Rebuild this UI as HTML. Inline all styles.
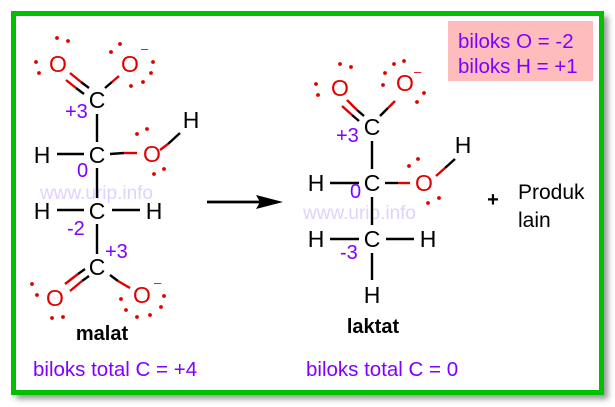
<!DOCTYPE html>
<html><head><meta charset="utf-8"><style>
html,body{margin:0;padding:0;background:#fff;}
svg{display:block;font-family:"Liberation Sans",sans-serif;}
</style></head><body>
<svg width="615" height="407" viewBox="0 0 615 407" xmlns="http://www.w3.org/2000/svg">
<defs><filter id="sh" x="-5%" y="-5%" width="110%" height="110%"><feGaussianBlur stdDeviation="3"/></filter></defs>
<rect x="16" y="16" width="592" height="383" fill="#999" filter="url(#sh)"/>
<rect x="13.5" y="13.5" width="588" height="379" fill="#fff" stroke="#00c000" stroke-width="5"/>
<rect x="448" y="21" width="145" height="60" fill="#ffbcbc"/>
<g fill="#8000ff" font-size="20.5">
<text x="458" y="48">biloks O = -2</text>
<text x="458" y="73">biloks H = +1</text>
<text x="33" y="376">biloks total C = +4</text>
<text x="306" y="376">biloks total C = 0</text>
</g>
<g fill="#d8c8ff" font-size="19" opacity="0.8">
<text x="40" y="199">www.urip.info</text>
<text x="303" y="219">www.urip.info</text>
</g>
<g stroke-width="2.4" stroke-linecap="butt">
<g stroke="#000">
<line x1="97" y1="114" x2="97" y2="142"/>
<line x1="97" y1="168" x2="97" y2="198"/>
<line x1="97" y1="224" x2="97" y2="254"/>
<line x1="57" y1="154" x2="84" y2="154"/>
<line x1="57" y1="210" x2="84" y2="210"/>
<line x1="112" y1="210" x2="140" y2="210"/>
<line x1="110" y1="154" x2="124" y2="153"/>
<line x1="89" y1="88" x2="81" y2="82"/><line x1="84" y1="94" x2="76" y2="88"/>
<line x1="105" y1="88" x2="112" y2="82"/>
<line x1="168" y1="144" x2="180" y2="133"/>
<line x1="89" y1="276" x2="82" y2="281"/><line x1="85" y1="269" x2="78" y2="274"/>
<line x1="110" y1="275" x2="118" y2="281"/>
</g>
<g stroke="#e00000">
<line x1="124" y1="153" x2="137" y2="153"/>
<line x1="81" y1="82" x2="70" y2="73"/><line x1="76" y1="88" x2="66" y2="80"/>
<line x1="112" y1="82" x2="119" y2="76"/>
<line x1="160" y1="150" x2="168" y2="144"/>
<line x1="82" y1="281" x2="70" y2="291"/><line x1="78" y1="274" x2="65" y2="284"/>
<line x1="118" y1="281" x2="130" y2="288"/>
</g>
<g stroke="#000">
<line x1="372" y1="141" x2="372" y2="169"/>
<line x1="372" y1="197" x2="372" y2="225"/>
<line x1="372" y1="253" x2="372" y2="280"/>
<line x1="330" y1="183" x2="359" y2="183"/>
<line x1="330" y1="239" x2="359" y2="239"/>
<line x1="386" y1="239" x2="414" y2="239"/>
<line x1="385" y1="183" x2="398" y2="183"/>
<line x1="364" y1="116" x2="357" y2="110"/><line x1="359" y1="121" x2="352" y2="115"/>
<line x1="380" y1="116" x2="388" y2="108"/>
<line x1="445" y1="168" x2="455" y2="159"/>
</g>
<g stroke="#e00000">
<line x1="398" y1="183" x2="410" y2="183"/>
<line x1="357" y1="110" x2="347" y2="100"/><line x1="352" y1="115" x2="342" y2="106"/>
<line x1="388" y1="108" x2="395" y2="101"/>
<line x1="436" y1="176" x2="445" y2="168"/>
</g>
</g>
<g font-size="23" text-anchor="middle">
<g fill="#000">
<text x="97" y="108">C</text><text x="97" y="163">C</text><text x="97" y="219">C</text><text x="97" y="275">C</text>
<text x="42" y="163">H</text><text x="42" y="219">H</text><text x="154" y="219">H</text><text x="191" y="128">H</text>
<text x="372" y="135">C</text><text x="372" y="191">C</text><text x="372" y="247">C</text>
<text x="316" y="191">H</text><text x="316" y="247">H</text><text x="428" y="247">H</text><text x="372" y="303">H</text><text x="463" y="153">H</text>
</g>
<g fill="#e00000">
<text x="58" y="72">O</text><text x="130" y="72">O</text><text x="152" y="162">O</text>
<text x="55" y="306">O</text><text x="142" y="303">O</text>
<text x="340" y="96">O</text><text x="405" y="91">O</text><text x="424" y="191">O</text>
</g>
</g>
<g fill="#e00000" font-size="13"><text x="141" y="53">–</text><text x="154" y="287">–</text><text x="414" y="76">–</text></g>
<g fill="#8000ff" font-size="20">
<text x="65" y="118">+3</text><text x="77" y="177">0</text><text x="67" y="235">-2</text><text x="105" y="258">+3</text>
<text x="336" y="142">+3</text><text x="350" y="198">0</text><text x="340" y="259">-3</text>
</g>
<g font-weight="bold" font-size="20" fill="#000" text-anchor="middle">
<text x="102" y="340">malat</text><text x="373" y="333">laktat</text>
<text x="493" y="206">+</text>
</g>
<g font-size="21" fill="#000"><text x="518" y="199">Produk</text><text x="518" y="227">lain</text></g>
<line x1="207" y1="202" x2="262" y2="202" stroke="#000" stroke-width="2.8"/>
<polygon points="256,195 283,202 256,209 260,202" fill="#000"/>
<g fill="#e00000">
<circle cx="57" cy="38" r="1.9"/><circle cx="68" cy="41" r="1.9"/>
<circle cx="36" cy="62" r="1.9"/><circle cx="39" cy="73" r="1.9"/>
<circle cx="111" cy="52" r="1.9"/><circle cx="120" cy="44" r="1.9"/>
<circle cx="153" cy="62" r="1.9"/><circle cx="151" cy="73" r="1.9"/>
<circle cx="131" cy="86" r="1.9"/><circle cx="143" cy="82" r="1.9"/>
<circle cx="137" cy="134" r="1.9"/><circle cx="147" cy="129" r="1.9"/>
<circle cx="154" cy="174" r="1.9"/><circle cx="164" cy="169" r="1.9"/>
<circle cx="32" cy="284" r="1.9"/><circle cx="37" cy="295" r="1.9"/>
<circle cx="52" cy="318" r="1.9"/><circle cx="63" cy="317" r="1.9"/>
<circle cx="121" cy="299" r="1.9"/><circle cx="126" cy="310" r="1.9"/>
<circle cx="137" cy="317" r="1.9"/><circle cx="150" cy="315" r="1.9"/>
<circle cx="161" cy="307" r="1.9"/><circle cx="164" cy="296" r="1.9"/>
<circle cx="340" cy="64" r="1.9"/><circle cx="351" cy="67" r="1.9"/>
<circle cx="316" cy="84" r="1.9"/><circle cx="318" cy="95" r="1.9"/>
<circle cx="385" cy="73" r="1.9"/><circle cx="394" cy="64" r="1.9"/>
<circle cx="404" cy="61" r="1.9"/><circle cx="383" cy="85" r="1.9"/>
<circle cx="424" cy="93" r="1.9"/><circle cx="417" cy="102" r="1.9"/>
<circle cx="409" cy="166" r="1.9"/><circle cx="418" cy="159" r="1.9"/>
<circle cx="428" cy="203" r="1.9"/><circle cx="439" cy="198" r="1.9"/>
</g>
</svg>
</body></html>
